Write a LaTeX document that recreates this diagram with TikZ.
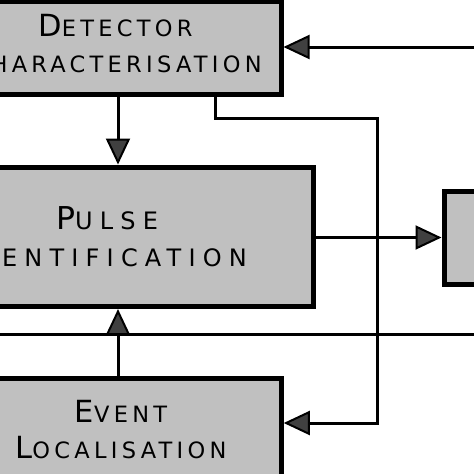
\documentclass[tikz,border=0pt]{standalone}
\usepackage{fontspec}
\usetikzlibrary{arrows.meta, positioning}
\newfontfamily\blockfont[LetterSpace=19]{DejaVu Sans}
\newfontfamily\wideblockfont[LetterSpace=30]{DejaVu Sans}
\definecolor{blockgray}{RGB}{192,192,192}
\definecolor{tipgray}{RGB}{64,64,64}
% fake small caps: big initial, smaller capitals after it
\newcommand{\capword}[2]{{\fontsize{30.5}{36}\selectfont #1}{\fontsize{22.5}{36}\selectfont #2}}
\newcommand{\bigcapword}[2]{{\fontsize{31.5}{37}\selectfont #1}{\fontsize{24}{37}\selectfont #2}}

\begin{document}
\begin{tikzpicture}[x=1pt, y=1pt,
  block/.style={draw, line width=5pt, fill=blockgray, align=center,
                inner sep=0pt, font=\blockfont\fontsize{22.5}{36}\selectfont},
  arrow/.style={-{Triangle[length=26pt, width=24pt, fill=tipgray, line width=2pt]},
                line width=3pt}]

  \useasboundingbox (0,0) rectangle (474,-474);
  \clip (0,0) rectangle (474,-474);

  \node[block, minimum width=331pt, minimum height=93.5pt, text depth=9pt] (det) at (115.5,-48.2)
    {\capword{D}{ETECTOR}\\\capword{C}{HARACTERISATION}};
  \node[block, minimum width=412.5pt, minimum height=139.5pt,
        font=\wideblockfont\fontsize{24}{37}\selectfont] (pulse) at (107,-236.8)
    {\bigcapword{P}{ULSE}\\\bigcapword{I}{DENTIFICATION}};
  \node[block, minimum width=320.5pt, minimum height=103pt] (event) at (121,-429.5)
    {\capword{E}{VENT}\\\capword{L}{OCALISATION}};
  \node[block, minimum width=96pt, minimum height=93pt] (out) at (492,-237.5) {};

  % loose ends at the edge of the picture
  \coordinate (fbin)  at (480,-47);
  \coordinate (busl)  at (-6,-334);
  \coordinate (busr)  at (480,-334);
  \coordinate (turn1) at (215,-118);
  \coordinate (turn2) at (377,-118);
  \coordinate (turn3) at (377,-423);

  \draw[arrow] (fbin) -- (fbin -| det.east);
  \draw[arrow] (det.south -| 118,0) -- (pulse.north -| 118,0);
  \draw[arrow] (event.north -| 118,0) -- (pulse.south -| 118,0);
  \draw[arrow] (pulse.east |- out.west) -- (out.west);
  \draw[line width=3pt] (busl) -- (busr);
  \draw[arrow] (det.south -| turn1) -- (turn1) -- (turn2)
    -- (turn3) -- (turn3 -| event.east);
\end{tikzpicture}
\end{document}
